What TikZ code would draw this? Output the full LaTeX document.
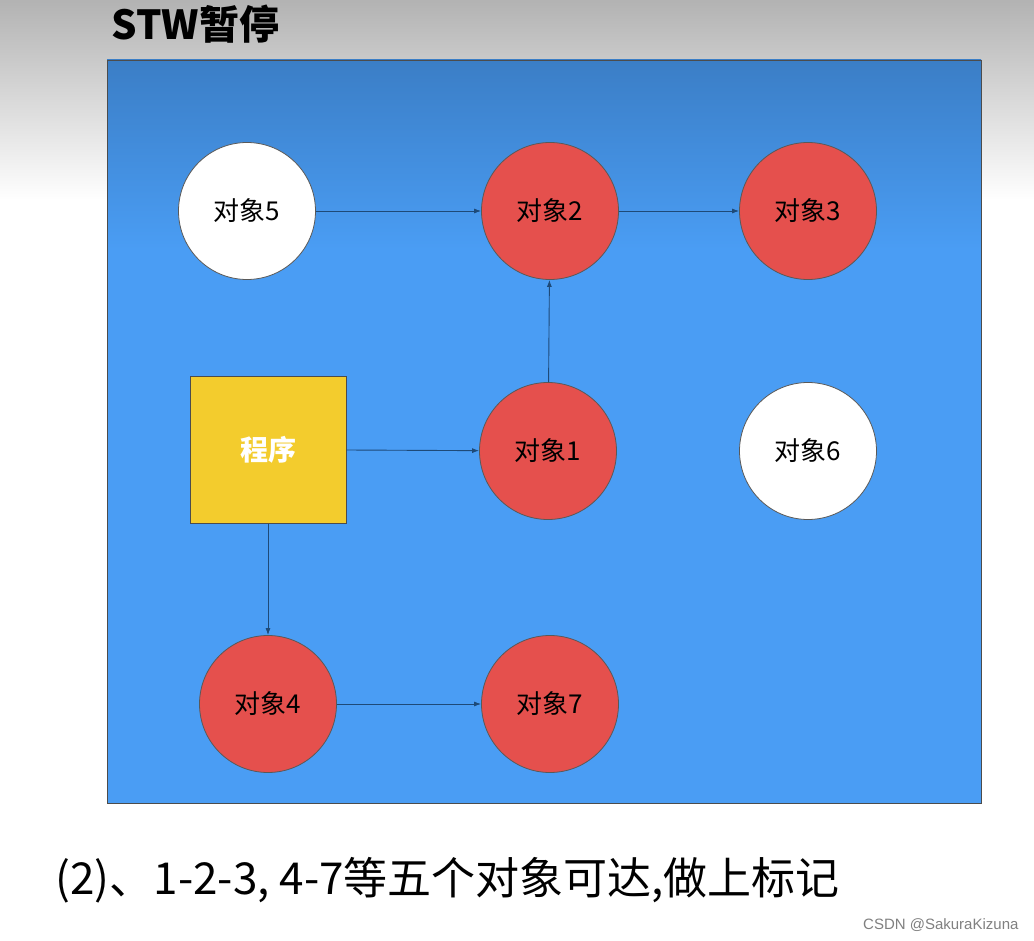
\documentclass[tikz,border=0pt]{standalone}
\usepackage{fontspec}
\setmainfont{Liberation Sans}
\newfontfamily\cjk{Noto Sans CJK SC}
\usetikzlibrary{arrows.meta}
\definecolor{bluebg}{HTML}{4A9DF4}
\definecolor{bluetop}{HTML}{3B7EC6}
\definecolor{objred}{HTML}{E5504D}
\definecolor{boxy}{HTML}{F3CC2D}
\definecolor{arr}{HTML}{1E4A78}
\begin{document}
\begin{tikzpicture}[x=1pt,y=-1pt,
  obj/.style={circle,draw=gray!70!black,line width=0.8pt,minimum size=137pt,inner sep=0pt,font=\cjk\fontsize{26}{30}\selectfont},
  redobj/.style={obj,fill=objred},
  whiteobj/.style={obj,fill=white},
  conn/.style={draw=arr,line width=0.9pt,-{Latex[length=7pt,width=5pt]}}]
\useasboundingbox (0,0) rectangle (1034,941);
\shade[top color=black!30,bottom color=white] (0,0) rectangle (1034,200);
\fill[white] (0,200) rectangle (1034,941);
\fill[bluebg] (107,60) rectangle (981,803);
\shade[top color=bluetop,bottom color=bluebg] (107,60) rectangle (981,250);
\draw[gray!60!black,line width=0.8pt] (107,60) rectangle (981,803);
\node[anchor=west,font=\cjk\bfseries\fontsize{40}{44}\selectfont] (title) at (108,24) {STW暂停};
\node[whiteobj] (o5) at (247,211) {对象5};
\node[redobj] (o2) at (550,211) {对象2};
\node[redobj] (o3) at (808,211) {对象3};
\node[redobj] (o1) at (548,451) {对象1};
\node[whiteobj] (o6) at (808,451) {对象6};
\node[redobj] (o4) at (268,704) {对象4};
\node[redobj] (o7) at (550,704) {对象7};
\node[draw=gray!60!black,line width=0.8pt,fill=boxy,minimum width=156pt,minimum height=147pt,text=white,font=\cjk\bfseries\fontsize{28}{32}\selectfont] (prog) at (268,450) {程序};
\draw[conn] (o5) -- (o2);
\draw[conn] (o2) -- (o3);
\draw[conn] (o1) -- (o2);
\draw[conn] (prog.east) -- (o1);
\draw[conn] (prog.south) -- (o4);
\draw[conn] (o4) -- (o7);
\node[anchor=west,font=\cjk\fontsize{44}{50}\selectfont] (cap) at (52,880) {(2)、1-2-3, 4-7等五个对象可达,做上标记};
\node[anchor=east,text=gray,font=\fontsize{15}{18}\selectfont] (wm) at (1022,925) {CSDN @SakuraKizuna};
\end{tikzpicture}
\end{document}
